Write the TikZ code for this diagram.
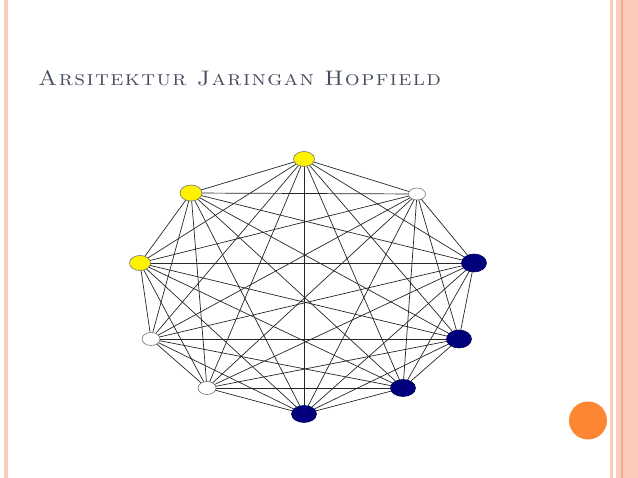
\documentclass[tikz,border=0pt]{standalone}
\usepackage{fontspec}
\usepackage{tikz}
\usetikzlibrary{shapes.geometric, positioning, backgrounds}
\newfontfamily\titlefont[LetterSpace=6]{lmromancaps10-regular.otf}
\definecolor{titlegray}{RGB}{70,78,96}
\definecolor{unitnavy}{RGB}{0,0,125}
\definecolor{framepink}{RGB}{251,204,188}
\definecolor{framedark}{RGB}{240,172,145}
\definecolor{dotorange}{RGB}{253,134,50}
\tikzstyle{unit} = [ellipse, draw=black!55, line width=0.6pt, inner sep=0pt, minimum width=18pt, minimum height=13pt]
\tikzstyle{yellowunit} = [unit, fill=yellow, minimum width=21pt, minimum height=15pt]
\tikzstyle{blankunit} = [unit, fill=white]
\tikzstyle{navyunit} = [unit, fill=unitnavy, draw=unitnavy!70!black, minimum width=25pt, minimum height=18pt]
\tikzstyle{link} = [line width=0.7pt, draw=black!85]

\begin{document}
\begin{tikzpicture}[x=1pt, y=-1pt]
    \useasboundingbox (0,0) rectangle (638,478);

    % Slide frame
    \fill[framepink] (4,0) rectangle (7.5,478);
    \fill[framepink] (610,0) rectangle (612.5,478);
    \fill[framepink] (616,0) rectangle (638,478);
    \fill[framedark] (621,0) rectangle (623,478);
    \node (dot) [circle, fill=dotorange, minimum size=38pt, inner sep=0pt] at (588,420.5) {};

    % Title
    \node (title) [anchor=base west, inner sep=0pt, text=titlegray, xscale=1.12, font=\titlefont\fontsize{21}{24}\selectfont] at (38,86) {Arsitektur Jaringan Hopfield};

    % Neurons
    \node (n1) [yellowunit] at (304,159) {};
    \node (n2) [yellowunit, minimum width=22pt, minimum height=16pt] at (191,193) {};
    \node (n3) [blankunit, minimum width=17pt, minimum height=12pt] at (417,194) {};
    \node (n4) [yellowunit] at (140,263) {};
    \node (n5) [navyunit] at (474,263) {};
    \node (n6) [blankunit] at (151,339) {};
    \node (n7) [navyunit] at (459,339) {};
    \node (n8) [blankunit] at (207,388) {};
    \node (n9) [navyunit, minimum height=17pt] at (403,388) {};
    \node (n10) [navyunit, minimum height=17pt] at (304,414) {};

    % Connections (every pair)
    \begin{scope}[on background layer]
    \foreach \i [evaluate=\i as \k using int(\i+1)] in {1,...,9}
        \foreach \j in {\k,...,10}
            \draw [link] (n\i.center) -- (n\j.center);
    \end{scope}
\end{tikzpicture}
\end{document}
